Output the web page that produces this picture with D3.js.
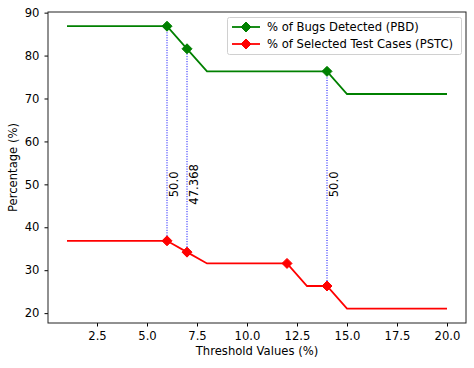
<!DOCTYPE html>
<html><head><meta charset="utf-8">
<script src="https://cdn.jsdelivr.net/npm/d3@7"></script>
<style>body{margin:0;background:#fff}svg{display:block;font-family:"DejaVu Sans",sans-serif}</style>
</head><body>
<script>
const thresholds = [1,2,3,4,5,6,7,8,9,10,11,12,13,14,15,16,17,18,19,20];
const pbd = [86.84,86.84,86.84,86.84,86.84,86.84,81.58,76.32,76.32,76.32,76.32,76.32,76.32,76.32,71.05,71.05,71.05,71.05,71.05,71.05];
const pstc = [36.84,36.84,36.84,36.84,36.84,36.84,34.21,31.58,31.58,31.58,31.58,31.58,26.32,26.32,21.05,21.05,21.05,21.05,21.05,21.05];
const pbdMarkers = [6,7,14];
const pstcMarkers = [6,7,12,14];
const annotX = [6,7,14];
const annotText = ["50.0","47.368","50.0"];
const xTicks = [2.5,5.0,7.5,10.0,12.5,15.0,17.5,20.0];
const yTicks = [20,30,40,50,60,70,80,90];
const seriesNames = ["% of Bugs Detected (PBD)","% of Selected Test Cases (PSTC)"];

const W=474,H=368, L=48, R=466, T=12, B=323;
const svg=d3.select("body").append("svg").attr("width",W).attr("height",H);
const x=d3.scaleLinear().domain([0.05,20.95]).range([L,R]);
const y=d3.scaleLinear().domain([17.7,90.15]).range([B,T]);
const fs=11.6;

// axes
const xa=svg.append("g").attr("transform",`translate(0,${B})`)
  .call(d3.axisBottom(x).tickValues(xTicks).tickFormat(d3.format(".1f")).tickSizeOuter(0).tickSize(3.5).tickPadding(5.5));
const ya=svg.append("g").attr("transform",`translate(${L},0)`)
  .call(d3.axisLeft(y).tickValues(yTicks).tickFormat(d3.format("d")).tickSizeOuter(0).tickSize(3.5).tickPadding(5));
[xa,ya].forEach(g=>{g.select(".domain").remove();g.selectAll("text").attr("font-size",fs).attr("fill","#000").attr("font-family","DejaVu Sans");g.selectAll("line").attr("stroke","#000").attr("stroke-width",1);});

// annotations
annotX.forEach((xv,i)=>{
  const idx=thresholds.indexOf(xv);
  svg.append("line").attr("x1",x(xv)).attr("x2",x(xv)).attr("y1",y(pstc[idx])).attr("y2",y(pbd[idx]))
    .attr("stroke","blue").attr("stroke-width",1).attr("stroke-dasharray","1,1.5");
  svg.append("text").attr("transform",`translate(${x(xv)+10.5},${y(50)}) rotate(-90)`)
    .attr("text-anchor","middle").attr("font-size",fs).attr("fill","#000").text(annotText[i]);
});

const line=d3.line().x((d,i)=>x(thresholds[i])).y(d=>y(d));
const series=[{v:pbd,c:"green",m:pbdMarkers},{v:pstc,c:"red",m:pstcMarkers}];
const diamond=(cx,cy,r)=>`M${cx},${cy-r}L${cx+r},${cy}L${cx},${cy+r}L${cx-r},${cy}Z`;
series.forEach(s=>{
  svg.append("path").attr("d",line(s.v)).attr("fill","none").attr("stroke",s.c).attr("stroke-width",1.8);
  s.m.forEach(mx=>{
    const i=thresholds.indexOf(mx);
    svg.append("path").attr("d",diamond(x(mx),y(s.v[i]),5)).attr("fill",s.c).attr("stroke",s.c).attr("stroke-width",1);
  });
});

// frame
svg.append("rect").attr("x",L).attr("y",T).attr("width",R-L).attr("height",B-T).attr("fill","none").attr("stroke","#222").attr("stroke-width",1);

// labels
svg.append("text").attr("x",(L+R)/2).attr("y",355).attr("text-anchor","middle").attr("font-size",fs).attr("fill","#000").text("Threshold Values (%)");
svg.append("text").attr("transform",`translate(17,${(T+B)/2}) rotate(-90)`).attr("text-anchor","middle").attr("font-size",fs).attr("fill","#000").text("Percentage (%)");

// legend
const lg=svg.append("g");
lg.append("rect").attr("x",227.5).attr("y",17.5).attr("width",234).attr("height",37).attr("rx",2)
  .attr("fill","#fff").attr("fill-opacity",0.8).attr("stroke","#d0d0d0").attr("stroke-width",1);
series.forEach((s,i)=>{
  const yy=27+i*17;
  lg.append("line").attr("x1",232).attr("x2",260).attr("y1",yy).attr("y2",yy).attr("stroke",s.c).attr("stroke-width",1.8);
  lg.append("path").attr("d",diamond(246,yy,5)).attr("fill",s.c).attr("stroke",s.c);
  lg.append("text").attr("x",267).attr("y",yy+4.2).attr("font-size",fs).attr("fill","#000").text(seriesNames[i]);
});
</script>
</body></html>
